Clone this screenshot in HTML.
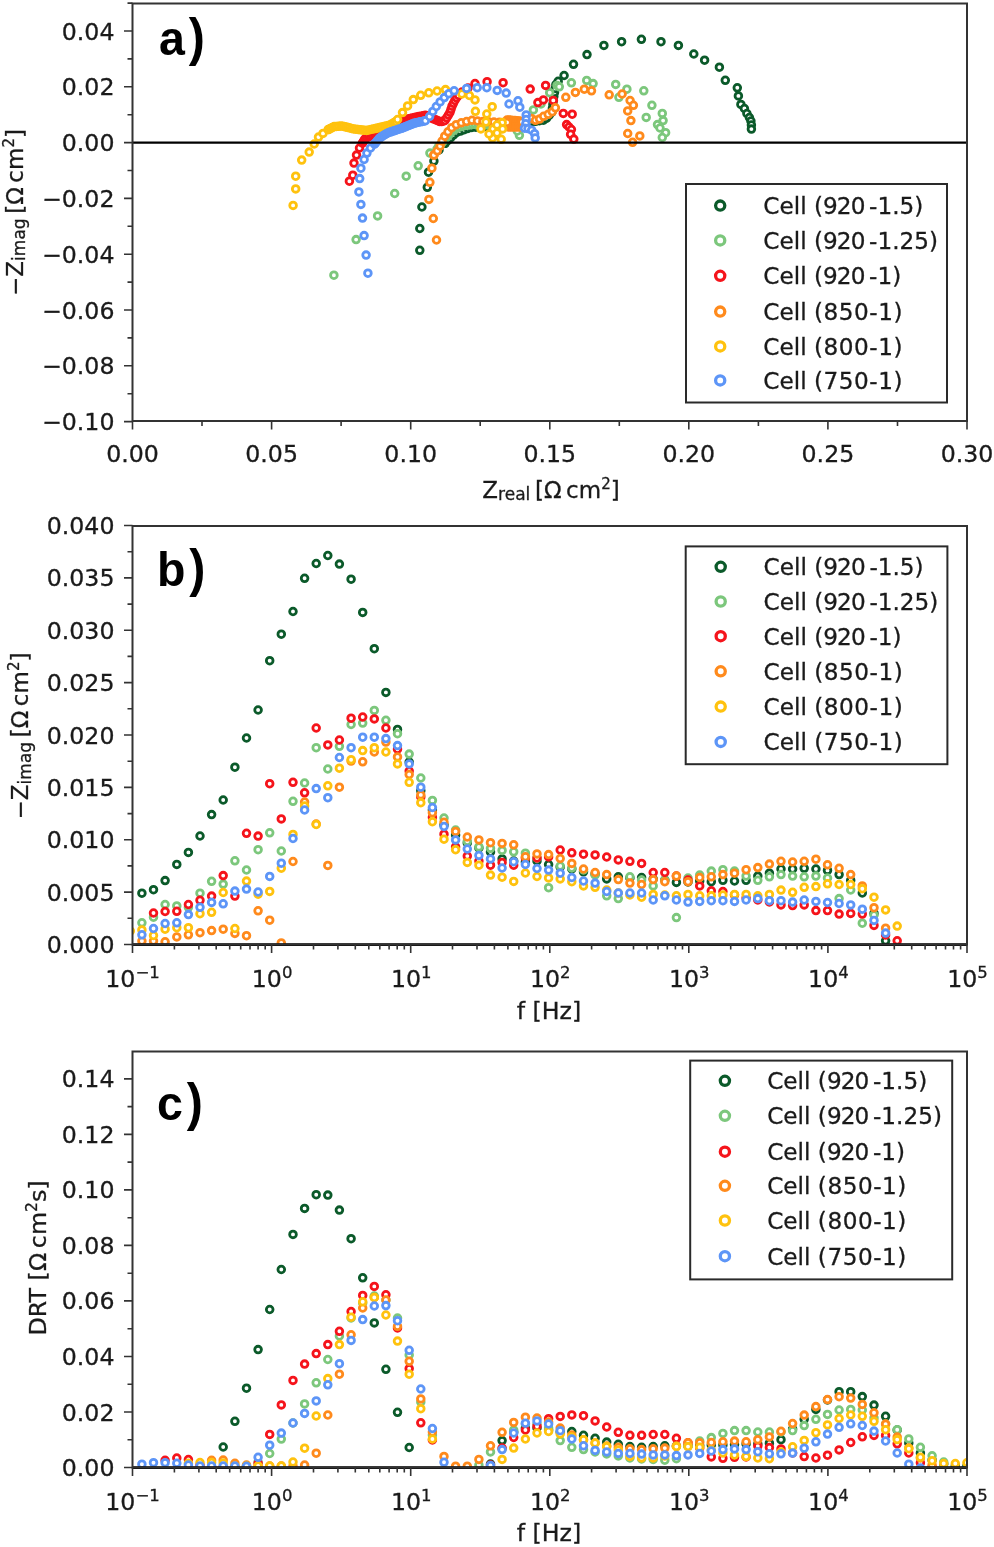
<!DOCTYPE html><html><head><meta charset="utf-8"><title>Impedance plots</title>
<style>html,body{margin:0;padding:0;background:#fff;}svg{display:block;filter:blur(0.4px);}text{font-family:'DejaVu Sans', 'Liberation Sans', sans-serif;fill:#1a1a1a;stroke:#1a1a1a;stroke-width:0.3px;}</style></head><body>
<svg width="994" height="1547" viewBox="0 0 994 1547">
<rect width="994" height="1547" fill="#fff"/>
<defs>
<clipPath id="clipa"><rect x="132.5" y="3.5" width="834.5" height="417.5"/></clipPath>
<clipPath id="clipb"><rect x="132.5" y="526.0" width="834.5" height="418.5"/></clipPath>
<clipPath id="clipc"><rect x="132.5" y="1051.5" width="834.5" height="416.0"/></clipPath>
</defs>
<g clip-path="url(#clipa)">
<g fill="#fff" stroke="#0b5a2a" stroke-width="2.8"><circle cx="419.8" cy="250.3" r="3.35"/><circle cx="419.8" cy="228.5" r="3.35"/><circle cx="421.9" cy="207" r="3.35"/><circle cx="427.3" cy="187.3" r="3.35"/><circle cx="428.5" cy="172.2" r="3.35"/><circle cx="433.9" cy="161.1" r="3.35"/><circle cx="439" cy="150" r="3.35"/><circle cx="445" cy="143.3" r="3.35"/><circle cx="445" cy="143.3" r="3.35"/><circle cx="447.9" cy="140.5" r="3.35"/><circle cx="450.7" cy="137.7" r="3.35"/><circle cx="453.6" cy="134.9" r="3.35"/><circle cx="456.6" cy="132.5" r="3.35"/><circle cx="460.4" cy="131.1" r="3.35"/><circle cx="464.2" cy="129.7" r="3.35"/><circle cx="467.9" cy="128.4" r="3.35"/><circle cx="471.8" cy="127.5" r="3.35"/><circle cx="475.8" cy="127.2" r="3.35"/><circle cx="479.8" cy="126.9" r="3.35"/><circle cx="483.8" cy="126.6" r="3.35"/><circle cx="487.7" cy="126.4" r="3.35"/><circle cx="491.7" cy="126.1" r="3.35"/><circle cx="495.7" cy="125.7" r="3.35"/><circle cx="499.7" cy="125.4" r="3.35"/><circle cx="503.7" cy="125" r="3.35"/><circle cx="507.7" cy="124.7" r="3.35"/><circle cx="511.7" cy="124.3" r="3.35"/><circle cx="515.6" cy="123.8" r="3.35"/><circle cx="519.6" cy="123.3" r="3.35"/><circle cx="523.6" cy="122.8" r="3.35"/><circle cx="527.5" cy="122.3" r="3.35"/><circle cx="531.5" cy="121.8" r="3.35"/><circle cx="535.5" cy="121.3" r="3.35"/><circle cx="539.4" cy="120.7" r="3.35"/><circle cx="543.4" cy="120.2" r="3.35"/><circle cx="546.6" cy="118.2" r="3.35"/><circle cx="549.2" cy="115.2" r="3.35"/><circle cx="551.8" cy="112.2" r="3.35"/><circle cx="552.4" cy="108.3" r="3.35"/><circle cx="552.9" cy="104.3" r="3.35"/><circle cx="553.4" cy="100.3" r="3.35"/><circle cx="553.8" cy="96.4" r="3.35"/><circle cx="554.5" cy="92.4" r="3.35"/><circle cx="555.2" cy="88.5" r="3.35"/><circle cx="555.9" cy="84.5" r="3.35"/><circle cx="558.2" cy="81.3" r="3.35"/><circle cx="564.1" cy="75.5" r="3.35"/><circle cx="573.5" cy="64.3" r="3.35"/><circle cx="587" cy="54.6" r="3.35"/><circle cx="603.9" cy="45.4" r="3.35"/><circle cx="621.6" cy="41.7" r="3.35"/><circle cx="641.4" cy="39.3" r="3.35"/><circle cx="661" cy="41.7" r="3.35"/><circle cx="678.4" cy="45.4" r="3.35"/><circle cx="693.8" cy="54" r="3.35"/><circle cx="704.6" cy="60.2" r="3.35"/><circle cx="719.4" cy="67.2" r="3.35"/><circle cx="725.3" cy="80.3" r="3.35"/><circle cx="737.3" cy="87.8" r="3.35"/><circle cx="738.4" cy="95.9" r="3.35"/><circle cx="740.9" cy="104.4" r="3.35"/><circle cx="744.4" cy="108.5" r="3.35"/><circle cx="746.9" cy="113.5" r="3.35"/><circle cx="749.4" cy="117.5" r="3.35"/><circle cx="750.9" cy="121" r="3.35"/><circle cx="751.4" cy="125" r="3.35"/><circle cx="751.4" cy="129.1" r="3.35"/></g>
<g fill="#fff" stroke="#7cc77c" stroke-width="2.8"><circle cx="333.9" cy="275.2" r="3.35"/><circle cx="356.1" cy="239.6" r="3.35"/><circle cx="377.6" cy="215.9" r="3.35"/><circle cx="394.7" cy="193.5" r="3.35"/><circle cx="406.2" cy="176.2" r="3.35"/><circle cx="418.2" cy="165.8" r="3.35"/><circle cx="429.9" cy="153.1" r="3.35"/><circle cx="439" cy="146" r="3.35"/><circle cx="437" cy="149" r="3.35"/><circle cx="438.9" cy="146.7" r="3.35"/><circle cx="440.8" cy="144.4" r="3.35"/><circle cx="442.7" cy="142" r="3.35"/><circle cx="444.6" cy="139.7" r="3.35"/><circle cx="446.6" cy="137.5" r="3.35"/><circle cx="448.6" cy="135.3" r="3.35"/><circle cx="450.6" cy="133" r="3.35"/><circle cx="452.8" cy="131" r="3.35"/><circle cx="455.3" cy="129.3" r="3.35"/><circle cx="457.8" cy="127.6" r="3.35"/><circle cx="460.6" cy="126.7" r="3.35"/><circle cx="463.5" cy="125.9" r="3.35"/><circle cx="466.4" cy="125.3" r="3.35"/><circle cx="469.4" cy="124.9" r="3.35"/><circle cx="472.4" cy="124.5" r="3.35"/><circle cx="475.4" cy="124.5" r="3.35"/><circle cx="478.4" cy="124.5" r="3.35"/><circle cx="481.4" cy="124.6" r="3.35"/><circle cx="484.4" cy="124.7" r="3.35"/><circle cx="487.4" cy="124.9" r="3.35"/><circle cx="490.4" cy="125" r="3.35"/><circle cx="493.4" cy="124.8" r="3.35"/><circle cx="496.4" cy="124.7" r="3.35"/><circle cx="499.4" cy="124.5" r="3.35"/><circle cx="502.2" cy="123.7" r="3.35"/><circle cx="505" cy="122.6" r="3.35"/><circle cx="507.8" cy="121.5" r="3.35"/><circle cx="510.6" cy="120.4" r="3.35"/><circle cx="519.4" cy="135.3" r="3.35"/><circle cx="517.3" cy="131" r="3.35"/><circle cx="533.4" cy="109.9" r="3.35"/><circle cx="541" cy="104" r="3.35"/><circle cx="549.7" cy="92.7" r="3.35"/><circle cx="557" cy="85.4" r="3.35"/><circle cx="559.3" cy="86.8" r="3.35"/><circle cx="571.4" cy="82.8" r="3.35"/><circle cx="586.7" cy="80.4" r="3.35"/><circle cx="593.1" cy="83.6" r="3.35"/><circle cx="615.7" cy="84.4" r="3.35"/><circle cx="626.9" cy="89.2" r="3.35"/><circle cx="618.9" cy="97.3" r="3.35"/><circle cx="643.8" cy="90.8" r="3.35"/><circle cx="651.9" cy="105.3" r="3.35"/><circle cx="646.2" cy="117.4" r="3.35"/><circle cx="662.3" cy="113.4" r="3.35"/><circle cx="663.1" cy="120.6" r="3.35"/><circle cx="657.5" cy="124.6" r="3.35"/><circle cx="660" cy="128" r="3.35"/><circle cx="665.6" cy="132.7" r="3.35"/><circle cx="662.3" cy="137.5" r="3.35"/></g>
<g fill="#fff" stroke="#f5141b" stroke-width="2.8"><circle cx="349.4" cy="181.2" r="3.35"/><circle cx="352.8" cy="175.2" r="3.35"/><circle cx="354" cy="163.1" r="3.35"/><circle cx="356.5" cy="155.1" r="3.35"/><circle cx="359.5" cy="148" r="3.35"/><circle cx="362.5" cy="143" r="3.35"/><circle cx="362.5" cy="143" r="3.35"/><circle cx="363.6" cy="141.1" r="3.35"/><circle cx="364.8" cy="139.2" r="3.35"/><circle cx="366.5" cy="137.9" r="3.35"/><circle cx="368.4" cy="136.8" r="3.35"/><circle cx="370.4" cy="136.2" r="3.35"/><circle cx="372.6" cy="135.9" r="3.35"/><circle cx="374.7" cy="135.2" r="3.35"/><circle cx="376.6" cy="134.2" r="3.35"/><circle cx="378.6" cy="133.2" r="3.35"/><circle cx="380.6" cy="132.2" r="3.35"/><circle cx="382.5" cy="131.2" r="3.35"/><circle cx="384.5" cy="130.3" r="3.35"/><circle cx="386.4" cy="129.2" r="3.35"/><circle cx="388.3" cy="128" r="3.35"/><circle cx="390.2" cy="126.9" r="3.35"/><circle cx="392.1" cy="125.8" r="3.35"/><circle cx="393.9" cy="124.6" r="3.35"/><circle cx="395.8" cy="123.5" r="3.35"/><circle cx="397.7" cy="122.4" r="3.35"/><circle cx="399.6" cy="121.2" r="3.35"/><circle cx="401.7" cy="120.6" r="3.35"/><circle cx="403.8" cy="120" r="3.35"/><circle cx="406" cy="119.5" r="3.35"/><circle cx="408.1" cy="119" r="3.35"/><circle cx="410.2" cy="118.4" r="3.35"/><circle cx="412.4" cy="117.9" r="3.35"/><circle cx="414.5" cy="117.5" r="3.35"/><circle cx="416.7" cy="117.1" r="3.35"/><circle cx="418.8" cy="116.6" r="3.35"/><circle cx="421" cy="116.2" r="3.35"/><circle cx="423.1" cy="115.8" r="3.35"/><circle cx="425.3" cy="115.3" r="3.35"/><circle cx="427.3" cy="116.1" r="3.35"/><circle cx="429.3" cy="117" r="3.35"/><circle cx="431.4" cy="117.9" r="3.35"/><circle cx="433.4" cy="118.8" r="3.35"/><circle cx="435.4" cy="119.7" r="3.35"/><circle cx="437.4" cy="120.5" r="3.35"/><circle cx="439.4" cy="121.4" r="3.35"/><circle cx="441.5" cy="121.6" r="3.35"/><circle cx="443.6" cy="121" r="3.35"/><circle cx="445" cy="120.5" r="3.35"/><circle cx="446.7" cy="117.8" r="3.35"/><circle cx="448.4" cy="115.1" r="3.35"/><circle cx="450" cy="112.3" r="3.35"/><circle cx="451" cy="109.3" r="3.35"/><circle cx="452" cy="106.2" r="3.35"/><circle cx="453.4" cy="103.3" r="3.35"/><circle cx="454.8" cy="100.5" r="3.35"/><circle cx="456.5" cy="97.8" r="3.35"/><circle cx="458.6" cy="95.4" r="3.35"/><circle cx="462" cy="92" r="3.35"/><circle cx="468" cy="88" r="3.35"/><circle cx="475" cy="83.5" r="3.35"/><circle cx="487.1" cy="81.7" r="3.35"/><circle cx="503.1" cy="82.7" r="3.35"/><circle cx="530.2" cy="89.1" r="3.35"/><circle cx="545.6" cy="85.4" r="3.35"/><circle cx="537.9" cy="102.6" r="3.35"/><circle cx="543.4" cy="99.9" r="3.35"/><circle cx="553.3" cy="100.4" r="3.35"/><circle cx="563.3" cy="113.4" r="3.35"/><circle cx="572.2" cy="114.2" r="3.35"/><circle cx="566.6" cy="124.6" r="3.35"/><circle cx="569" cy="127" r="3.35"/><circle cx="571.4" cy="129.5" r="3.35"/><circle cx="570.6" cy="134.3" r="3.35"/><circle cx="573.8" cy="139.1" r="3.35"/></g>
<g fill="#fff" stroke="#ff8a1c" stroke-width="2.8"><circle cx="436.5" cy="240" r="3.35"/><circle cx="433.3" cy="218.5" r="3.35"/><circle cx="428.9" cy="199.4" r="3.35"/><circle cx="429.9" cy="182.3" r="3.35"/><circle cx="431.9" cy="168.2" r="3.35"/><circle cx="433.9" cy="155.1" r="3.35"/><circle cx="433.9" cy="155.1" r="3.35"/><circle cx="437.3" cy="150.8" r="3.35"/><circle cx="440.1" cy="146.1" r="3.35"/><circle cx="442.1" cy="141" r="3.35"/><circle cx="444.7" cy="136.2" r="3.35"/><circle cx="448" cy="131.8" r="3.35"/><circle cx="451.7" cy="127.7" r="3.35"/><circle cx="456.2" cy="124.7" r="3.35"/><circle cx="461.3" cy="122.8" r="3.35"/><circle cx="466.6" cy="121.5" r="3.35"/><circle cx="472" cy="120.3" r="3.35"/><circle cx="477.5" cy="121" r="3.35"/><circle cx="482.9" cy="121.4" r="3.35"/><circle cx="488.4" cy="121.7" r="3.35"/><circle cx="493.9" cy="122" r="3.35"/><circle cx="499.4" cy="122.3" r="3.35"/><circle cx="504.9" cy="122.5" r="3.35"/><circle cx="507" cy="120" r="3.35"/><circle cx="509" cy="120.1" r="3.35"/><circle cx="511" cy="120.3" r="3.35"/><circle cx="513" cy="120.4" r="3.35"/><circle cx="515" cy="120.6" r="3.35"/><circle cx="517" cy="120.7" r="3.35"/><circle cx="519" cy="120.9" r="3.35"/><circle cx="520.7" cy="121.3" r="3.35"/><circle cx="520.7" cy="123.3" r="3.35"/><circle cx="520.7" cy="125.3" r="3.35"/><circle cx="520.4" cy="127" r="3.35"/><circle cx="518.4" cy="127" r="3.35"/><circle cx="516.4" cy="127" r="3.35"/><circle cx="514.4" cy="127" r="3.35"/><circle cx="512.4" cy="127" r="3.35"/><circle cx="510.4" cy="127" r="3.35"/><circle cx="508.4" cy="127" r="3.35"/><circle cx="507" cy="126.4" r="3.35"/><circle cx="507" cy="124.4" r="3.35"/><circle cx="507" cy="122.4" r="3.35"/><circle cx="522" cy="122" r="3.35"/><circle cx="526.7" cy="120.2" r="3.35"/><circle cx="531.3" cy="118.4" r="3.35"/><circle cx="535.5" cy="120.3" r="3.35"/><circle cx="539.5" cy="119.1" r="3.35"/><circle cx="543.6" cy="116.3" r="3.35"/><circle cx="548.2" cy="114.3" r="3.35"/><circle cx="552.3" cy="111.7" r="3.35"/><circle cx="555.4" cy="107.8" r="3.35"/><circle cx="565.8" cy="97.3" r="3.35"/><circle cx="575.4" cy="92.4" r="3.35"/><circle cx="584.3" cy="89.2" r="3.35"/><circle cx="591.5" cy="90.8" r="3.35"/><circle cx="609.2" cy="94.8" r="3.35"/><circle cx="622.1" cy="94" r="3.35"/><circle cx="630.1" cy="100.5" r="3.35"/><circle cx="633.4" cy="105.3" r="3.35"/><circle cx="627.7" cy="110.9" r="3.35"/><circle cx="630.9" cy="120.6" r="3.35"/><circle cx="627.7" cy="133.5" r="3.35"/><circle cx="639.8" cy="135.9" r="3.35"/><circle cx="632.6" cy="142.3" r="3.35"/></g>
<g fill="#fff" stroke="#ffc20e" stroke-width="2.8"><circle cx="293.1" cy="205.4" r="3.35"/><circle cx="295.7" cy="188.9" r="3.35"/><circle cx="295.7" cy="176.2" r="3.35"/><circle cx="301.7" cy="160.1" r="3.35"/><circle cx="309.2" cy="152.1" r="3.35"/><circle cx="314.2" cy="144" r="3.35"/><circle cx="318.5" cy="137.1" r="3.35"/><circle cx="323" cy="133.4" r="3.35"/><circle cx="328.3" cy="129.6" r="3.35"/><circle cx="328.3" cy="129.6" r="3.35"/><circle cx="330.3" cy="128.6" r="3.35"/><circle cx="332.2" cy="127.6" r="3.35"/><circle cx="334.2" cy="126.6" r="3.35"/><circle cx="336.4" cy="126.4" r="3.35"/><circle cx="338.6" cy="126.3" r="3.35"/><circle cx="340.8" cy="126.1" r="3.35"/><circle cx="342.9" cy="126.2" r="3.35"/><circle cx="345.1" cy="126.8" r="3.35"/><circle cx="347.2" cy="127.3" r="3.35"/><circle cx="349.3" cy="127.8" r="3.35"/><circle cx="351.5" cy="128.4" r="3.35"/><circle cx="353.6" cy="128.9" r="3.35"/><circle cx="355.8" cy="129.2" r="3.35"/><circle cx="358" cy="129.5" r="3.35"/><circle cx="360.2" cy="129.8" r="3.35"/><circle cx="362.3" cy="130" r="3.35"/><circle cx="364.5" cy="130.3" r="3.35"/><circle cx="366.7" cy="130.4" r="3.35"/><circle cx="368.8" cy="129.9" r="3.35"/><circle cx="371" cy="129.5" r="3.35"/><circle cx="373.2" cy="129" r="3.35"/><circle cx="375.3" cy="128.6" r="3.35"/><circle cx="377.5" cy="128.1" r="3.35"/><circle cx="379.6" cy="127.6" r="3.35"/><circle cx="381.7" cy="127.1" r="3.35"/><circle cx="383.9" cy="126.5" r="3.35"/><circle cx="386" cy="126" r="3.35"/><circle cx="388.1" cy="125.5" r="3.35"/><circle cx="390.2" cy="124.9" r="3.35"/><circle cx="392.1" cy="123.7" r="3.35"/><circle cx="394" cy="122.6" r="3.35"/><circle cx="395.9" cy="121.5" r="3.35"/><circle cx="397.6" cy="119.5" r="3.35"/><circle cx="402.5" cy="112.6" r="3.35"/><circle cx="407.6" cy="105.9" r="3.35"/><circle cx="413.3" cy="99.6" r="3.35"/><circle cx="420.7" cy="95.3" r="3.35"/><circle cx="428.8" cy="92.8" r="3.35"/><circle cx="437.1" cy="91" r="3.35"/><circle cx="445.5" cy="89.6" r="3.35"/><circle cx="461.9" cy="94" r="3.35"/><circle cx="469.4" cy="95.5" r="3.35"/><circle cx="475" cy="99.9" r="3.35"/><circle cx="475.4" cy="111.3" r="3.35"/><circle cx="480.9" cy="128.9" r="3.35"/><circle cx="486.8" cy="114" r="3.35"/><circle cx="492.2" cy="106.7" r="3.35"/><circle cx="493.1" cy="128.9" r="3.35"/><circle cx="502.2" cy="122.6" r="3.35"/><circle cx="502.6" cy="128.9" r="3.35"/><circle cx="492.6" cy="138" r="3.35"/><circle cx="501.2" cy="139.3" r="3.35"/><circle cx="497" cy="125" r="3.35"/><circle cx="497" cy="133" r="3.35"/><circle cx="489" cy="134" r="3.35"/><circle cx="486" cy="122" r="3.35"/></g>
<g fill="#fff" stroke="#5d95f7" stroke-width="2.8"><circle cx="367.9" cy="273.2" r="3.35"/><circle cx="366.1" cy="255.1" r="3.35"/><circle cx="364.1" cy="235.6" r="3.35"/><circle cx="362.5" cy="218.1" r="3.35"/><circle cx="360.9" cy="204.4" r="3.35"/><circle cx="358.9" cy="191.9" r="3.35"/><circle cx="359.7" cy="178.6" r="3.35"/><circle cx="360.9" cy="168.2" r="3.35"/><circle cx="364.1" cy="159.5" r="3.35"/><circle cx="366.9" cy="153.1" r="3.35"/><circle cx="370.5" cy="148" r="3.35"/><circle cx="374.6" cy="144" r="3.35"/><circle cx="374.6" cy="144" r="3.35"/><circle cx="375.9" cy="142.5" r="3.35"/><circle cx="377.2" cy="140.9" r="3.35"/><circle cx="378.5" cy="139.4" r="3.35"/><circle cx="379.8" cy="137.9" r="3.35"/><circle cx="381.4" cy="136.8" r="3.35"/><circle cx="383.1" cy="135.7" r="3.35"/><circle cx="384.8" cy="134.7" r="3.35"/><circle cx="386.5" cy="133.7" r="3.35"/><circle cx="388.3" cy="132.7" r="3.35"/><circle cx="390.2" cy="132.1" r="3.35"/><circle cx="392.1" cy="131.4" r="3.35"/><circle cx="394" cy="130.8" r="3.35"/><circle cx="395.9" cy="130.2" r="3.35"/><circle cx="397.8" cy="129.5" r="3.35"/><circle cx="399.7" cy="128.9" r="3.35"/><circle cx="401.6" cy="128.3" r="3.35"/><circle cx="403.4" cy="127.6" r="3.35"/><circle cx="405.3" cy="126.8" r="3.35"/><circle cx="407.1" cy="126.1" r="3.35"/><circle cx="409" cy="125.3" r="3.35"/><circle cx="410.9" cy="124.6" r="3.35"/><circle cx="412.7" cy="123.8" r="3.35"/><circle cx="414.6" cy="123.1" r="3.35"/><circle cx="416.5" cy="122.7" r="3.35"/><circle cx="418.5" cy="122.2" r="3.35"/><circle cx="420.4" cy="121.8" r="3.35"/><circle cx="422.4" cy="121.4" r="3.35"/><circle cx="424.3" cy="120.9" r="3.35"/><circle cx="425.4" cy="120.7" r="3.35"/><circle cx="429.6" cy="116.5" r="3.35"/><circle cx="432.8" cy="111.4" r="3.35"/><circle cx="436.3" cy="106.5" r="3.35"/><circle cx="440.1" cy="101.9" r="3.35"/><circle cx="444.3" cy="97.6" r="3.35"/><circle cx="448.8" cy="93.7" r="3.35"/><circle cx="454.1" cy="90.8" r="3.35"/><circle cx="466.6" cy="88.4" r="3.35"/><circle cx="477.2" cy="87.7" r="3.35"/><circle cx="486.8" cy="87.7" r="3.35"/><circle cx="497.2" cy="90.4" r="3.35"/><circle cx="506.2" cy="93.1" r="3.35"/><circle cx="509" cy="104" r="3.35"/><circle cx="518" cy="100.8" r="3.35"/><circle cx="519.8" cy="107.2" r="3.35"/><circle cx="526.2" cy="114.9" r="3.35"/><circle cx="526.2" cy="119.4" r="3.35"/><circle cx="525.8" cy="123.8" r="3.35"/><circle cx="524.5" cy="128.2" r="3.35"/><circle cx="528" cy="128.6" r="3.35"/><circle cx="531.7" cy="130.2" r="3.35"/><circle cx="534.6" cy="133.7" r="3.35"/><circle cx="535.2" cy="137.9" r="3.35"/></g>
</g>
<line x1="132.5" y1="142.6" x2="967.0" y2="142.6" stroke="#000" stroke-width="2.2"/>
<g clip-path="url(#clipb)">
<g fill="#fff" stroke="#0b5a2a" stroke-width="2.8"><circle cx="141.9" cy="893.2" r="3.35"/><circle cx="153.5" cy="889.7" r="3.35"/><circle cx="165.1" cy="880.6" r="3.35"/><circle cx="176.8" cy="864.4" r="3.35"/><circle cx="188.4" cy="852.4" r="3.35"/><circle cx="200" cy="836" r="3.35"/><circle cx="211.6" cy="814.6" r="3.35"/><circle cx="223.2" cy="800" r="3.35"/><circle cx="234.9" cy="767.2" r="3.35"/><circle cx="246.5" cy="738" r="3.35"/><circle cx="258.1" cy="710" r="3.35"/><circle cx="269.7" cy="660.7" r="3.35"/><circle cx="281.3" cy="634.2" r="3.35"/><circle cx="293" cy="611.5" r="3.35"/><circle cx="304.6" cy="578.3" r="3.35"/><circle cx="316.2" cy="563.5" r="3.35"/><circle cx="327.8" cy="555.5" r="3.35"/><circle cx="339.4" cy="564.1" r="3.35"/><circle cx="351.1" cy="579.2" r="3.35"/><circle cx="362.7" cy="612.4" r="3.35"/><circle cx="374.3" cy="648.7" r="3.35"/><circle cx="385.9" cy="692.4" r="3.35"/><circle cx="397.5" cy="729.4" r="3.35"/><circle cx="409.2" cy="762" r="3.35"/><circle cx="420.8" cy="790.7" r="3.35"/><circle cx="432.4" cy="810" r="3.35"/><circle cx="444" cy="825" r="3.35"/><circle cx="455.6" cy="835" r="3.35"/><circle cx="467.3" cy="843" r="3.35"/><circle cx="478.9" cy="848" r="3.35"/><circle cx="490.5" cy="852" r="3.35"/><circle cx="502.1" cy="858.9" r="3.35"/><circle cx="513.7" cy="861" r="3.35"/><circle cx="525.4" cy="862" r="3.35"/><circle cx="537" cy="861" r="3.35"/><circle cx="548.6" cy="864.5" r="3.35"/><circle cx="560.2" cy="867" r="3.35"/><circle cx="571.8" cy="869" r="3.35"/><circle cx="583.5" cy="871.8" r="3.35"/><circle cx="595.1" cy="874" r="3.35"/><circle cx="606.7" cy="878.9" r="3.35"/><circle cx="618.3" cy="876.8" r="3.35"/><circle cx="629.9" cy="878" r="3.35"/><circle cx="641.6" cy="877.5" r="3.35"/><circle cx="653.2" cy="879" r="3.35"/><circle cx="664.8" cy="880" r="3.35"/><circle cx="676.4" cy="882.4" r="3.35"/><circle cx="688" cy="882" r="3.35"/><circle cx="699.7" cy="881" r="3.35"/><circle cx="711.3" cy="881.7" r="3.35"/><circle cx="722.9" cy="880.3" r="3.35"/><circle cx="734.5" cy="881" r="3.35"/><circle cx="746.1" cy="880.3" r="3.35"/><circle cx="757.8" cy="876.1" r="3.35"/><circle cx="769.4" cy="873.2" r="3.35"/><circle cx="781" cy="869" r="3.35"/><circle cx="792.6" cy="869" r="3.35"/><circle cx="804.2" cy="868.3" r="3.35"/><circle cx="815.9" cy="869" r="3.35"/><circle cx="827.5" cy="870.4" r="3.35"/><circle cx="839.1" cy="874.6" r="3.35"/><circle cx="850.7" cy="880.3" r="3.35"/><circle cx="862.3" cy="893" r="3.35"/><circle cx="874" cy="913.4" r="3.35"/><circle cx="885.6" cy="940.8" r="3.35"/></g>
<g fill="#fff" stroke="#7cc77c" stroke-width="2.8"><circle cx="141.9" cy="922.8" r="3.35"/><circle cx="153.5" cy="917.2" r="3.35"/><circle cx="165.1" cy="904.5" r="3.35"/><circle cx="176.8" cy="905.9" r="3.35"/><circle cx="188.4" cy="907.3" r="3.35"/><circle cx="200" cy="893.2" r="3.35"/><circle cx="211.6" cy="881.3" r="3.35"/><circle cx="223.2" cy="884.1" r="3.35"/><circle cx="234.9" cy="860.8" r="3.35"/><circle cx="246.5" cy="870" r="3.35"/><circle cx="258.1" cy="849.7" r="3.35"/><circle cx="269.7" cy="832.8" r="3.35"/><circle cx="281.3" cy="851" r="3.35"/><circle cx="293" cy="801.3" r="3.35"/><circle cx="304.6" cy="783" r="3.35"/><circle cx="316.2" cy="747.7" r="3.35"/><circle cx="327.8" cy="769" r="3.35"/><circle cx="339.4" cy="746.3" r="3.35"/><circle cx="351.1" cy="724.5" r="3.35"/><circle cx="362.7" cy="723.1" r="3.35"/><circle cx="374.3" cy="710.4" r="3.35"/><circle cx="385.9" cy="720.3" r="3.35"/><circle cx="397.5" cy="733.7" r="3.35"/><circle cx="409.2" cy="754.1" r="3.35"/><circle cx="420.8" cy="778" r="3.35"/><circle cx="432.4" cy="800.4" r="3.35"/><circle cx="444" cy="818" r="3.35"/><circle cx="455.6" cy="830" r="3.35"/><circle cx="467.3" cy="841.3" r="3.35"/><circle cx="478.9" cy="846.9" r="3.35"/><circle cx="490.5" cy="848.3" r="3.35"/><circle cx="502.1" cy="850.4" r="3.35"/><circle cx="513.7" cy="851.8" r="3.35"/><circle cx="525.4" cy="853.2" r="3.35"/><circle cx="537" cy="858" r="3.35"/><circle cx="548.6" cy="887.7" r="3.35"/><circle cx="560.2" cy="866" r="3.35"/><circle cx="571.8" cy="868" r="3.35"/><circle cx="583.5" cy="870" r="3.35"/><circle cx="595.1" cy="875" r="3.35"/><circle cx="606.7" cy="895.8" r="3.35"/><circle cx="618.3" cy="898.6" r="3.35"/><circle cx="629.9" cy="876.8" r="3.35"/><circle cx="641.6" cy="880" r="3.35"/><circle cx="653.2" cy="885.9" r="3.35"/><circle cx="664.8" cy="880" r="3.35"/><circle cx="676.4" cy="917.6" r="3.35"/><circle cx="688" cy="878" r="3.35"/><circle cx="699.7" cy="875" r="3.35"/><circle cx="711.3" cy="871.1" r="3.35"/><circle cx="722.9" cy="869.7" r="3.35"/><circle cx="734.5" cy="871.1" r="3.35"/><circle cx="746.1" cy="876.1" r="3.35"/><circle cx="757.8" cy="880.3" r="3.35"/><circle cx="769.4" cy="876.8" r="3.35"/><circle cx="781" cy="874.6" r="3.35"/><circle cx="792.6" cy="876.1" r="3.35"/><circle cx="804.2" cy="876.8" r="3.35"/><circle cx="815.9" cy="876.1" r="3.35"/><circle cx="827.5" cy="878" r="3.35"/><circle cx="839.1" cy="898.6" r="3.35"/><circle cx="850.7" cy="890" r="3.35"/><circle cx="862.3" cy="923.2" r="3.35"/><circle cx="874" cy="915" r="3.35"/></g>
<g fill="#fff" stroke="#f5141b" stroke-width="2.8"><circle cx="153.5" cy="913" r="3.35"/><circle cx="165.1" cy="911.5" r="3.35"/><circle cx="176.8" cy="911.3" r="3.35"/><circle cx="188.4" cy="904.5" r="3.35"/><circle cx="200" cy="900.3" r="3.35"/><circle cx="211.6" cy="896.1" r="3.35"/><circle cx="223.2" cy="875.6" r="3.35"/><circle cx="234.9" cy="896.1" r="3.35"/><circle cx="246.5" cy="833.3" r="3.35"/><circle cx="258.1" cy="836.1" r="3.35"/><circle cx="269.7" cy="783.7" r="3.35"/><circle cx="281.3" cy="818.9" r="3.35"/><circle cx="293" cy="782.3" r="3.35"/><circle cx="304.6" cy="792.8" r="3.35"/><circle cx="316.2" cy="728" r="3.35"/><circle cx="327.8" cy="744.9" r="3.35"/><circle cx="339.4" cy="740" r="3.35"/><circle cx="351.1" cy="718.2" r="3.35"/><circle cx="362.7" cy="717" r="3.35"/><circle cx="374.3" cy="718.9" r="3.35"/><circle cx="385.9" cy="728" r="3.35"/><circle cx="397.5" cy="749.2" r="3.35"/><circle cx="409.2" cy="771" r="3.35"/><circle cx="420.8" cy="797" r="3.35"/><circle cx="432.4" cy="817.3" r="3.35"/><circle cx="444" cy="834.2" r="3.35"/><circle cx="455.6" cy="846.9" r="3.35"/><circle cx="467.3" cy="856.1" r="3.35"/><circle cx="478.9" cy="861" r="3.35"/><circle cx="490.5" cy="865.2" r="3.35"/><circle cx="502.1" cy="862.4" r="3.35"/><circle cx="513.7" cy="865.2" r="3.35"/><circle cx="525.4" cy="858" r="3.35"/><circle cx="537" cy="858" r="3.35"/><circle cx="548.6" cy="857" r="3.35"/><circle cx="560.2" cy="850" r="3.35"/><circle cx="571.8" cy="852.8" r="3.35"/><circle cx="583.5" cy="854.2" r="3.35"/><circle cx="595.1" cy="854.9" r="3.35"/><circle cx="606.7" cy="857" r="3.35"/><circle cx="618.3" cy="859.9" r="3.35"/><circle cx="629.9" cy="861.3" r="3.35"/><circle cx="641.6" cy="863.4" r="3.35"/><circle cx="653.2" cy="872.5" r="3.35"/><circle cx="664.8" cy="872.5" r="3.35"/><circle cx="676.4" cy="876.1" r="3.35"/><circle cx="688" cy="880" r="3.35"/><circle cx="699.7" cy="885.9" r="3.35"/><circle cx="711.3" cy="890.8" r="3.35"/><circle cx="722.9" cy="891.5" r="3.35"/><circle cx="734.5" cy="895" r="3.35"/><circle cx="746.1" cy="898" r="3.35"/><circle cx="757.8" cy="900" r="3.35"/><circle cx="769.4" cy="902" r="3.35"/><circle cx="781" cy="904.9" r="3.35"/><circle cx="792.6" cy="905.6" r="3.35"/><circle cx="804.2" cy="904.9" r="3.35"/><circle cx="815.9" cy="910.6" r="3.35"/><circle cx="827.5" cy="910.6" r="3.35"/><circle cx="839.1" cy="914.1" r="3.35"/><circle cx="850.7" cy="913.4" r="3.35"/><circle cx="862.3" cy="914.1" r="3.35"/><circle cx="874" cy="925.4" r="3.35"/><circle cx="885.6" cy="935" r="3.35"/><circle cx="897.2" cy="940.8" r="3.35"/></g>
<g fill="#fff" stroke="#ff8a1c" stroke-width="2.8"><circle cx="141.9" cy="941" r="3.35"/><circle cx="153.5" cy="941" r="3.35"/><circle cx="165.1" cy="941.8" r="3.35"/><circle cx="176.8" cy="936.9" r="3.35"/><circle cx="188.4" cy="934.8" r="3.35"/><circle cx="200" cy="932.7" r="3.35"/><circle cx="211.6" cy="930.6" r="3.35"/><circle cx="223.2" cy="929.2" r="3.35"/><circle cx="234.9" cy="933.4" r="3.35"/><circle cx="246.5" cy="935.7" r="3.35"/><circle cx="258.1" cy="910.8" r="3.35"/><circle cx="269.7" cy="920.2" r="3.35"/><circle cx="281.3" cy="942.9" r="3.35"/><circle cx="293" cy="861.5" r="3.35"/><circle cx="304.6" cy="802" r="3.35"/><circle cx="316.2" cy="824" r="3.35"/><circle cx="327.8" cy="865.4" r="3.35"/><circle cx="339.4" cy="787.2" r="3.35"/><circle cx="351.1" cy="761.1" r="3.35"/><circle cx="362.7" cy="761.8" r="3.35"/><circle cx="374.3" cy="752" r="3.35"/><circle cx="385.9" cy="742.1" r="3.35"/><circle cx="397.5" cy="756.9" r="3.35"/><circle cx="409.2" cy="774.5" r="3.35"/><circle cx="420.8" cy="794.9" r="3.35"/><circle cx="432.4" cy="812.8" r="3.35"/><circle cx="444" cy="822.3" r="3.35"/><circle cx="455.6" cy="831.4" r="3.35"/><circle cx="467.3" cy="837" r="3.35"/><circle cx="478.9" cy="839.9" r="3.35"/><circle cx="490.5" cy="842.7" r="3.35"/><circle cx="502.1" cy="843.4" r="3.35"/><circle cx="513.7" cy="844.8" r="3.35"/><circle cx="525.4" cy="856.8" r="3.35"/><circle cx="537" cy="853.9" r="3.35"/><circle cx="548.6" cy="854.6" r="3.35"/><circle cx="560.2" cy="858.5" r="3.35"/><circle cx="571.8" cy="863.4" r="3.35"/><circle cx="583.5" cy="869" r="3.35"/><circle cx="595.1" cy="872.5" r="3.35"/><circle cx="606.7" cy="874.6" r="3.35"/><circle cx="618.3" cy="879.6" r="3.35"/><circle cx="629.9" cy="883.1" r="3.35"/><circle cx="641.6" cy="884.5" r="3.35"/><circle cx="653.2" cy="879.6" r="3.35"/><circle cx="664.8" cy="881.7" r="3.35"/><circle cx="676.4" cy="876.1" r="3.35"/><circle cx="688" cy="881.7" r="3.35"/><circle cx="699.7" cy="877.5" r="3.35"/><circle cx="711.3" cy="876.8" r="3.35"/><circle cx="722.9" cy="874.6" r="3.35"/><circle cx="734.5" cy="873.2" r="3.35"/><circle cx="746.1" cy="869.7" r="3.35"/><circle cx="757.8" cy="867.6" r="3.35"/><circle cx="769.4" cy="864.1" r="3.35"/><circle cx="781" cy="861.3" r="3.35"/><circle cx="792.6" cy="862" r="3.35"/><circle cx="804.2" cy="861.3" r="3.35"/><circle cx="815.9" cy="859.2" r="3.35"/><circle cx="827.5" cy="864.8" r="3.35"/><circle cx="839.1" cy="868.3" r="3.35"/><circle cx="850.7" cy="874.6" r="3.35"/><circle cx="862.3" cy="885.9" r="3.35"/><circle cx="874" cy="907.7" r="3.35"/><circle cx="885.6" cy="928.2" r="3.35"/></g>
<g fill="#fff" stroke="#ffc20e" stroke-width="2.8"><circle cx="130.3" cy="931" r="3.35"/><circle cx="141.9" cy="929.9" r="3.35"/><circle cx="153.5" cy="935.5" r="3.35"/><circle cx="165.1" cy="929.2" r="3.35"/><circle cx="176.8" cy="927.7" r="3.35"/><circle cx="188.4" cy="927.7" r="3.35"/><circle cx="200" cy="913.7" r="3.35"/><circle cx="211.6" cy="912.3" r="3.35"/><circle cx="223.2" cy="892.5" r="3.35"/><circle cx="234.9" cy="928.5" r="3.35"/><circle cx="246.5" cy="881.1" r="3.35"/><circle cx="258.1" cy="894.2" r="3.35"/><circle cx="269.7" cy="891.4" r="3.35"/><circle cx="281.3" cy="868.2" r="3.35"/><circle cx="293" cy="834.4" r="3.35"/><circle cx="304.6" cy="806" r="3.35"/><circle cx="316.2" cy="824.5" r="3.35"/><circle cx="327.8" cy="785.8" r="3.35"/><circle cx="339.4" cy="768.2" r="3.35"/><circle cx="351.1" cy="759.7" r="3.35"/><circle cx="362.7" cy="750.6" r="3.35"/><circle cx="374.3" cy="747.7" r="3.35"/><circle cx="385.9" cy="752" r="3.35"/><circle cx="397.5" cy="763.9" r="3.35"/><circle cx="409.2" cy="782.3" r="3.35"/><circle cx="420.8" cy="802.7" r="3.35"/><circle cx="432.4" cy="821.7" r="3.35"/><circle cx="444" cy="839.2" r="3.35"/><circle cx="455.6" cy="849.7" r="3.35"/><circle cx="467.3" cy="862.4" r="3.35"/><circle cx="478.9" cy="865.2" r="3.35"/><circle cx="490.5" cy="875.1" r="3.35"/><circle cx="502.1" cy="877.2" r="3.35"/><circle cx="513.7" cy="881.4" r="3.35"/><circle cx="525.4" cy="873" r="3.35"/><circle cx="537" cy="876.5" r="3.35"/><circle cx="548.6" cy="877.9" r="3.35"/><circle cx="560.2" cy="878.9" r="3.35"/><circle cx="571.8" cy="881.7" r="3.35"/><circle cx="583.5" cy="885.9" r="3.35"/><circle cx="595.1" cy="887.3" r="3.35"/><circle cx="606.7" cy="890" r="3.35"/><circle cx="618.3" cy="893" r="3.35"/><circle cx="629.9" cy="895" r="3.35"/><circle cx="641.6" cy="897.2" r="3.35"/><circle cx="653.2" cy="894.4" r="3.35"/><circle cx="664.8" cy="895" r="3.35"/><circle cx="676.4" cy="895.8" r="3.35"/><circle cx="688" cy="894.4" r="3.35"/><circle cx="699.7" cy="895.8" r="3.35"/><circle cx="711.3" cy="895.8" r="3.35"/><circle cx="722.9" cy="895" r="3.35"/><circle cx="734.5" cy="894.4" r="3.35"/><circle cx="746.1" cy="894.4" r="3.35"/><circle cx="757.8" cy="895.8" r="3.35"/><circle cx="769.4" cy="894.4" r="3.35"/><circle cx="781" cy="890.1" r="3.35"/><circle cx="792.6" cy="892.3" r="3.35"/><circle cx="804.2" cy="887.3" r="3.35"/><circle cx="815.9" cy="886.6" r="3.35"/><circle cx="827.5" cy="883.8" r="3.35"/><circle cx="839.1" cy="884.5" r="3.35"/><circle cx="850.7" cy="884.5" r="3.35"/><circle cx="862.3" cy="888.7" r="3.35"/><circle cx="874" cy="897.2" r="3.35"/><circle cx="885.6" cy="909.9" r="3.35"/><circle cx="897.2" cy="926.1" r="3.35"/></g>
<g fill="#fff" stroke="#5d95f7" stroke-width="2.8"><circle cx="141.9" cy="934.8" r="3.35"/><circle cx="153.5" cy="928.5" r="3.35"/><circle cx="165.1" cy="923.5" r="3.35"/><circle cx="176.8" cy="922.8" r="3.35"/><circle cx="188.4" cy="914.6" r="3.35"/><circle cx="200" cy="907.3" r="3.35"/><circle cx="211.6" cy="902.4" r="3.35"/><circle cx="223.2" cy="903.8" r="3.35"/><circle cx="234.9" cy="891.1" r="3.35"/><circle cx="246.5" cy="889.1" r="3.35"/><circle cx="258.1" cy="892" r="3.35"/><circle cx="269.7" cy="876.4" r="3.35"/><circle cx="281.3" cy="863.2" r="3.35"/><circle cx="293" cy="838.5" r="3.35"/><circle cx="304.6" cy="810" r="3.35"/><circle cx="316.2" cy="788.6" r="3.35"/><circle cx="327.8" cy="797.7" r="3.35"/><circle cx="339.4" cy="757.5" r="3.35"/><circle cx="351.1" cy="747.7" r="3.35"/><circle cx="362.7" cy="737.2" r="3.35"/><circle cx="374.3" cy="737.2" r="3.35"/><circle cx="385.9" cy="738.6" r="3.35"/><circle cx="397.5" cy="745.6" r="3.35"/><circle cx="409.2" cy="763.9" r="3.35"/><circle cx="420.8" cy="787.2" r="3.35"/><circle cx="432.4" cy="807.5" r="3.35"/><circle cx="444" cy="826.5" r="3.35"/><circle cx="455.6" cy="839.9" r="3.35"/><circle cx="467.3" cy="849" r="3.35"/><circle cx="478.9" cy="855.4" r="3.35"/><circle cx="490.5" cy="858.9" r="3.35"/><circle cx="502.1" cy="868" r="3.35"/><circle cx="513.7" cy="861.7" r="3.35"/><circle cx="525.4" cy="864.5" r="3.35"/><circle cx="537" cy="868.5" r="3.35"/><circle cx="548.6" cy="870.1" r="3.35"/><circle cx="560.2" cy="873.2" r="3.35"/><circle cx="571.8" cy="877.5" r="3.35"/><circle cx="583.5" cy="881" r="3.35"/><circle cx="595.1" cy="883.1" r="3.35"/><circle cx="606.7" cy="891.5" r="3.35"/><circle cx="618.3" cy="893" r="3.35"/><circle cx="629.9" cy="893" r="3.35"/><circle cx="641.6" cy="893" r="3.35"/><circle cx="653.2" cy="900" r="3.35"/><circle cx="664.8" cy="895.8" r="3.35"/><circle cx="676.4" cy="900" r="3.35"/><circle cx="688" cy="902.1" r="3.35"/><circle cx="699.7" cy="901.4" r="3.35"/><circle cx="711.3" cy="900.7" r="3.35"/><circle cx="722.9" cy="900.7" r="3.35"/><circle cx="734.5" cy="901.4" r="3.35"/><circle cx="746.1" cy="900" r="3.35"/><circle cx="757.8" cy="898.6" r="3.35"/><circle cx="769.4" cy="900.7" r="3.35"/><circle cx="781" cy="900.7" r="3.35"/><circle cx="792.6" cy="902.1" r="3.35"/><circle cx="804.2" cy="900" r="3.35"/><circle cx="815.9" cy="901.4" r="3.35"/><circle cx="827.5" cy="902.5" r="3.35"/><circle cx="839.1" cy="903.5" r="3.35"/><circle cx="850.7" cy="904.9" r="3.35"/><circle cx="862.3" cy="909.2" r="3.35"/><circle cx="874" cy="920.4" r="3.35"/><circle cx="885.6" cy="933.1" r="3.35"/></g>
</g>
<line x1="132.5" y1="944.6" x2="967.0" y2="944.6" stroke="#000" stroke-width="2.6"/>
<g clip-path="url(#clipc)">
<g fill="#fff" stroke="#0b5a2a" stroke-width="2.8"><circle cx="223.2" cy="1447" r="3.35"/><circle cx="234.9" cy="1421.3" r="3.35"/><circle cx="246.5" cy="1388.2" r="3.35"/><circle cx="258.1" cy="1349.6" r="3.35"/><circle cx="269.7" cy="1309.5" r="3.35"/><circle cx="281.3" cy="1269.5" r="3.35"/><circle cx="293" cy="1234.4" r="3.35"/><circle cx="304.6" cy="1208.4" r="3.35"/><circle cx="316.2" cy="1194.7" r="3.35"/><circle cx="327.8" cy="1195.1" r="3.35"/><circle cx="339.4" cy="1210.1" r="3.35"/><circle cx="351.1" cy="1238.7" r="3.35"/><circle cx="362.7" cy="1277.8" r="3.35"/><circle cx="374.3" cy="1322.9" r="3.35"/><circle cx="385.9" cy="1369.3" r="3.35"/><circle cx="397.5" cy="1412.3" r="3.35"/><circle cx="409.2" cy="1447.5" r="3.35"/><circle cx="420.8" cy="1480" r="3.35"/><circle cx="432.4" cy="1480" r="3.35"/><circle cx="444" cy="1480" r="3.35"/><circle cx="455.6" cy="1480" r="3.35"/><circle cx="467.3" cy="1480" r="3.35"/><circle cx="478.9" cy="1470" r="3.35"/><circle cx="490.5" cy="1464" r="3.35"/><circle cx="502.1" cy="1440.6" r="3.35"/><circle cx="513.7" cy="1432" r="3.35"/><circle cx="525.4" cy="1428" r="3.35"/><circle cx="537" cy="1428" r="3.35"/><circle cx="548.6" cy="1430" r="3.35"/><circle cx="560.2" cy="1432" r="3.35"/><circle cx="571.8" cy="1431.5" r="3.35"/><circle cx="583.5" cy="1435.3" r="3.35"/><circle cx="595.1" cy="1438.3" r="3.35"/><circle cx="606.7" cy="1442.1" r="3.35"/><circle cx="618.3" cy="1444.3" r="3.35"/><circle cx="629.9" cy="1446.6" r="3.35"/><circle cx="641.6" cy="1447.3" r="3.35"/><circle cx="653.2" cy="1446.6" r="3.35"/><circle cx="664.8" cy="1445.8" r="3.35"/><circle cx="676.4" cy="1446" r="3.35"/><circle cx="688" cy="1446" r="3.35"/><circle cx="699.7" cy="1445.5" r="3.35"/><circle cx="711.3" cy="1445" r="3.35"/><circle cx="722.9" cy="1445" r="3.35"/><circle cx="734.5" cy="1444.5" r="3.35"/><circle cx="746.1" cy="1444" r="3.35"/><circle cx="757.8" cy="1444" r="3.35"/><circle cx="769.4" cy="1443.2" r="3.35"/><circle cx="781" cy="1439.7" r="3.35"/><circle cx="792.6" cy="1429" r="3.35"/><circle cx="804.2" cy="1419.3" r="3.35"/><circle cx="815.9" cy="1409.4" r="3.35"/><circle cx="827.5" cy="1400" r="3.35"/><circle cx="839.1" cy="1391.7" r="3.35"/><circle cx="850.7" cy="1391.7" r="3.35"/><circle cx="862.3" cy="1396.6" r="3.35"/><circle cx="874" cy="1405.1" r="3.35"/><circle cx="885.6" cy="1416.3" r="3.35"/><circle cx="897.2" cy="1430" r="3.35"/><circle cx="908.8" cy="1443.1" r="3.35"/><circle cx="920.4" cy="1453" r="3.35"/><circle cx="932.1" cy="1460" r="3.35"/><circle cx="943.7" cy="1464" r="3.35"/><circle cx="955.3" cy="1466" r="3.35"/><circle cx="966.9" cy="1466" r="3.35"/></g>
<g fill="#fff" stroke="#7cc77c" stroke-width="2.8"><circle cx="246.5" cy="1466" r="3.35"/><circle cx="258.1" cy="1462" r="3.35"/><circle cx="269.7" cy="1453.5" r="3.35"/><circle cx="281.3" cy="1439.1" r="3.35"/><circle cx="293" cy="1423" r="3.35"/><circle cx="304.6" cy="1403.9" r="3.35"/><circle cx="316.2" cy="1382.8" r="3.35"/><circle cx="327.8" cy="1359.5" r="3.35"/><circle cx="339.4" cy="1336" r="3.35"/><circle cx="351.1" cy="1318" r="3.35"/><circle cx="362.7" cy="1303" r="3.35"/><circle cx="374.3" cy="1296" r="3.35"/><circle cx="385.9" cy="1300" r="3.35"/><circle cx="397.5" cy="1318" r="3.35"/><circle cx="409.2" cy="1355" r="3.35"/><circle cx="420.8" cy="1402" r="3.35"/><circle cx="432.4" cy="1435" r="3.35"/><circle cx="444" cy="1480" r="3.35"/><circle cx="455.6" cy="1480" r="3.35"/><circle cx="467.3" cy="1480" r="3.35"/><circle cx="478.9" cy="1465" r="3.35"/><circle cx="490.5" cy="1451.9" r="3.35"/><circle cx="502.1" cy="1449" r="3.35"/><circle cx="513.7" cy="1430" r="3.35"/><circle cx="525.4" cy="1424" r="3.35"/><circle cx="537" cy="1424" r="3.35"/><circle cx="548.6" cy="1428" r="3.35"/><circle cx="560.2" cy="1440.6" r="3.35"/><circle cx="571.8" cy="1447.3" r="3.35"/><circle cx="583.5" cy="1449.6" r="3.35"/><circle cx="595.1" cy="1452" r="3.35"/><circle cx="606.7" cy="1454" r="3.35"/><circle cx="618.3" cy="1456" r="3.35"/><circle cx="629.9" cy="1458" r="3.35"/><circle cx="641.6" cy="1459" r="3.35"/><circle cx="653.2" cy="1459.4" r="3.35"/><circle cx="664.8" cy="1460.2" r="3.35"/><circle cx="676.4" cy="1458.7" r="3.35"/><circle cx="688" cy="1446" r="3.35"/><circle cx="699.7" cy="1441" r="3.35"/><circle cx="711.3" cy="1437.6" r="3.35"/><circle cx="722.9" cy="1433.4" r="3.35"/><circle cx="734.5" cy="1430.6" r="3.35"/><circle cx="746.1" cy="1430.6" r="3.35"/><circle cx="757.8" cy="1432" r="3.35"/><circle cx="769.4" cy="1432" r="3.35"/><circle cx="781" cy="1432" r="3.35"/><circle cx="792.6" cy="1430.6" r="3.35"/><circle cx="804.2" cy="1425.6" r="3.35"/><circle cx="815.9" cy="1419.3" r="3.35"/><circle cx="827.5" cy="1414.4" r="3.35"/><circle cx="839.1" cy="1410" r="3.35"/><circle cx="850.7" cy="1409.4" r="3.35"/><circle cx="862.3" cy="1410" r="3.35"/><circle cx="874" cy="1418" r="3.35"/><circle cx="885.6" cy="1424" r="3.35"/><circle cx="897.2" cy="1429.7" r="3.35"/><circle cx="908.8" cy="1438.9" r="3.35"/><circle cx="920.4" cy="1447.3" r="3.35"/><circle cx="932.1" cy="1455.8" r="3.35"/><circle cx="943.7" cy="1462" r="3.35"/></g>
<g fill="#fff" stroke="#f5141b" stroke-width="2.8"><circle cx="165.1" cy="1460.3" r="3.35"/><circle cx="176.8" cy="1458" r="3.35"/><circle cx="188.4" cy="1459.5" r="3.35"/><circle cx="200" cy="1465" r="3.35"/><circle cx="211.6" cy="1467" r="3.35"/><circle cx="223.2" cy="1467" r="3.35"/><circle cx="234.9" cy="1467" r="3.35"/><circle cx="246.5" cy="1467" r="3.35"/><circle cx="258.1" cy="1463.3" r="3.35"/><circle cx="269.7" cy="1434.4" r="3.35"/><circle cx="281.3" cy="1404.9" r="3.35"/><circle cx="293" cy="1380.4" r="3.35"/><circle cx="304.6" cy="1364.1" r="3.35"/><circle cx="316.2" cy="1353.6" r="3.35"/><circle cx="327.8" cy="1344.6" r="3.35"/><circle cx="339.4" cy="1331.3" r="3.35"/><circle cx="351.1" cy="1311.5" r="3.35"/><circle cx="362.7" cy="1295.4" r="3.35"/><circle cx="374.3" cy="1286.4" r="3.35"/><circle cx="385.9" cy="1294.8" r="3.35"/><circle cx="397.5" cy="1328" r="3.35"/><circle cx="409.2" cy="1368.6" r="3.35"/><circle cx="420.8" cy="1422.8" r="3.35"/><circle cx="432.4" cy="1440" r="3.35"/><circle cx="444" cy="1480" r="3.35"/><circle cx="455.6" cy="1480" r="3.35"/><circle cx="467.3" cy="1480" r="3.35"/><circle cx="478.9" cy="1480" r="3.35"/><circle cx="490.5" cy="1465" r="3.35"/><circle cx="502.1" cy="1448" r="3.35"/><circle cx="513.7" cy="1437.5" r="3.35"/><circle cx="525.4" cy="1430" r="3.35"/><circle cx="537" cy="1426.2" r="3.35"/><circle cx="548.6" cy="1418.7" r="3.35"/><circle cx="560.2" cy="1416.4" r="3.35"/><circle cx="571.8" cy="1414.9" r="3.35"/><circle cx="583.5" cy="1415.7" r="3.35"/><circle cx="595.1" cy="1420.9" r="3.35"/><circle cx="606.7" cy="1427" r="3.35"/><circle cx="618.3" cy="1432.3" r="3.35"/><circle cx="629.9" cy="1435.3" r="3.35"/><circle cx="641.6" cy="1435.3" r="3.35"/><circle cx="653.2" cy="1434.5" r="3.35"/><circle cx="664.8" cy="1434.5" r="3.35"/><circle cx="676.4" cy="1438.3" r="3.35"/><circle cx="688" cy="1442.8" r="3.35"/><circle cx="699.7" cy="1448" r="3.35"/><circle cx="711.3" cy="1456.9" r="3.35"/><circle cx="722.9" cy="1458.3" r="3.35"/><circle cx="734.5" cy="1457.3" r="3.35"/><circle cx="746.1" cy="1457" r="3.35"/><circle cx="757.8" cy="1446.1" r="3.35"/><circle cx="769.4" cy="1447.5" r="3.35"/><circle cx="781" cy="1448.9" r="3.35"/><circle cx="792.6" cy="1453" r="3.35"/><circle cx="804.2" cy="1456.6" r="3.35"/><circle cx="815.9" cy="1458" r="3.35"/><circle cx="827.5" cy="1455.2" r="3.35"/><circle cx="839.1" cy="1449.9" r="3.35"/><circle cx="850.7" cy="1442.5" r="3.35"/><circle cx="862.3" cy="1436.8" r="3.35"/><circle cx="874" cy="1435.4" r="3.35"/><circle cx="885.6" cy="1435.4" r="3.35"/><circle cx="897.2" cy="1443.8" r="3.35"/><circle cx="908.8" cy="1453" r="3.35"/><circle cx="920.4" cy="1462.8" r="3.35"/><circle cx="932.1" cy="1467" r="3.35"/></g>
<g fill="#fff" stroke="#ff8a1c" stroke-width="2.8"><circle cx="211.6" cy="1460.3" r="3.35"/><circle cx="223.2" cy="1460" r="3.35"/><circle cx="234.9" cy="1463.3" r="3.35"/><circle cx="246.5" cy="1465" r="3.35"/><circle cx="258.1" cy="1466" r="3.35"/><circle cx="269.7" cy="1466" r="3.35"/><circle cx="281.3" cy="1466" r="3.35"/><circle cx="293" cy="1466" r="3.35"/><circle cx="304.6" cy="1465" r="3.35"/><circle cx="316.2" cy="1453.2" r="3.35"/><circle cx="327.8" cy="1415" r="3.35"/><circle cx="339.4" cy="1374.2" r="3.35"/><circle cx="351.1" cy="1334.8" r="3.35"/><circle cx="362.7" cy="1308" r="3.35"/><circle cx="374.3" cy="1297.5" r="3.35"/><circle cx="385.9" cy="1300" r="3.35"/><circle cx="397.5" cy="1326.3" r="3.35"/><circle cx="409.2" cy="1361.3" r="3.35"/><circle cx="420.8" cy="1398.9" r="3.35"/><circle cx="432.4" cy="1432" r="3.35"/><circle cx="444" cy="1456.4" r="3.35"/><circle cx="455.6" cy="1466.2" r="3.35"/><circle cx="467.3" cy="1466.2" r="3.35"/><circle cx="478.9" cy="1459.4" r="3.35"/><circle cx="490.5" cy="1445.8" r="3.35"/><circle cx="502.1" cy="1432.3" r="3.35"/><circle cx="513.7" cy="1422.4" r="3.35"/><circle cx="525.4" cy="1417.2" r="3.35"/><circle cx="537" cy="1418" r="3.35"/><circle cx="548.6" cy="1422" r="3.35"/><circle cx="560.2" cy="1428" r="3.35"/><circle cx="571.8" cy="1435" r="3.35"/><circle cx="583.5" cy="1440" r="3.35"/><circle cx="595.1" cy="1443" r="3.35"/><circle cx="606.7" cy="1446" r="3.35"/><circle cx="618.3" cy="1447.3" r="3.35"/><circle cx="629.9" cy="1448.8" r="3.35"/><circle cx="641.6" cy="1449.6" r="3.35"/><circle cx="653.2" cy="1448.8" r="3.35"/><circle cx="664.8" cy="1448.1" r="3.35"/><circle cx="676.4" cy="1446" r="3.35"/><circle cx="688" cy="1442.8" r="3.35"/><circle cx="699.7" cy="1442.8" r="3.35"/><circle cx="711.3" cy="1442.5" r="3.35"/><circle cx="722.9" cy="1441.8" r="3.35"/><circle cx="734.5" cy="1441.1" r="3.35"/><circle cx="746.1" cy="1441.8" r="3.35"/><circle cx="757.8" cy="1439.7" r="3.35"/><circle cx="769.4" cy="1436.9" r="3.35"/><circle cx="781" cy="1431.3" r="3.35"/><circle cx="792.6" cy="1423.5" r="3.35"/><circle cx="804.2" cy="1415.1" r="3.35"/><circle cx="815.9" cy="1406.6" r="3.35"/><circle cx="827.5" cy="1399.6" r="3.35"/><circle cx="839.1" cy="1396.7" r="3.35"/><circle cx="850.7" cy="1398.1" r="3.35"/><circle cx="862.3" cy="1404.4" r="3.35"/><circle cx="874" cy="1412.8" r="3.35"/><circle cx="885.6" cy="1424.1" r="3.35"/><circle cx="897.2" cy="1437" r="3.35"/><circle cx="908.8" cy="1448" r="3.35"/><circle cx="920.4" cy="1458" r="3.35"/><circle cx="932.1" cy="1465" r="3.35"/></g>
<g fill="#fff" stroke="#ffc20e" stroke-width="2.8"><circle cx="188.4" cy="1463.3" r="3.35"/><circle cx="200" cy="1462.5" r="3.35"/><circle cx="211.6" cy="1462.5" r="3.35"/><circle cx="223.2" cy="1463" r="3.35"/><circle cx="234.9" cy="1466" r="3.35"/><circle cx="246.5" cy="1466" r="3.35"/><circle cx="258.1" cy="1466" r="3.35"/><circle cx="269.7" cy="1466" r="3.35"/><circle cx="281.3" cy="1466" r="3.35"/><circle cx="293" cy="1462" r="3.35"/><circle cx="304.6" cy="1448.2" r="3.35"/><circle cx="316.2" cy="1416" r="3.35"/><circle cx="327.8" cy="1378.6" r="3.35"/><circle cx="339.4" cy="1344.6" r="3.35"/><circle cx="351.1" cy="1317.2" r="3.35"/><circle cx="362.7" cy="1301.8" r="3.35"/><circle cx="374.3" cy="1297.5" r="3.35"/><circle cx="385.9" cy="1315" r="3.35"/><circle cx="397.5" cy="1341.1" r="3.35"/><circle cx="409.2" cy="1374.2" r="3.35"/><circle cx="420.8" cy="1408.7" r="3.35"/><circle cx="432.4" cy="1439" r="3.35"/><circle cx="444" cy="1480" r="3.35"/><circle cx="455.6" cy="1480" r="3.35"/><circle cx="467.3" cy="1480" r="3.35"/><circle cx="478.9" cy="1480" r="3.35"/><circle cx="490.5" cy="1468" r="3.35"/><circle cx="502.1" cy="1459.4" r="3.35"/><circle cx="513.7" cy="1448.1" r="3.35"/><circle cx="525.4" cy="1439" r="3.35"/><circle cx="537" cy="1433" r="3.35"/><circle cx="548.6" cy="1431.5" r="3.35"/><circle cx="560.2" cy="1434" r="3.35"/><circle cx="571.8" cy="1437" r="3.35"/><circle cx="583.5" cy="1439.8" r="3.35"/><circle cx="595.1" cy="1443" r="3.35"/><circle cx="606.7" cy="1446.6" r="3.35"/><circle cx="618.3" cy="1450" r="3.35"/><circle cx="629.9" cy="1456.4" r="3.35"/><circle cx="641.6" cy="1457.9" r="3.35"/><circle cx="653.2" cy="1458" r="3.35"/><circle cx="664.8" cy="1456" r="3.35"/><circle cx="676.4" cy="1446.6" r="3.35"/><circle cx="688" cy="1446.6" r="3.35"/><circle cx="699.7" cy="1447.3" r="3.35"/><circle cx="711.3" cy="1450" r="3.35"/><circle cx="722.9" cy="1453" r="3.35"/><circle cx="734.5" cy="1455" r="3.35"/><circle cx="746.1" cy="1456.6" r="3.35"/><circle cx="757.8" cy="1458" r="3.35"/><circle cx="769.4" cy="1458.7" r="3.35"/><circle cx="781" cy="1452" r="3.35"/><circle cx="792.6" cy="1446.8" r="3.35"/><circle cx="804.2" cy="1440.4" r="3.35"/><circle cx="815.9" cy="1432.7" r="3.35"/><circle cx="827.5" cy="1424.9" r="3.35"/><circle cx="839.1" cy="1418.5" r="3.35"/><circle cx="850.7" cy="1415" r="3.35"/><circle cx="862.3" cy="1416.3" r="3.35"/><circle cx="874" cy="1421.3" r="3.35"/><circle cx="885.6" cy="1429.7" r="3.35"/><circle cx="897.2" cy="1439.6" r="3.35"/><circle cx="908.8" cy="1448.7" r="3.35"/><circle cx="920.4" cy="1457.2" r="3.35"/><circle cx="932.1" cy="1460.7" r="3.35"/><circle cx="943.7" cy="1463.5" r="3.35"/><circle cx="955.3" cy="1463.5" r="3.35"/><circle cx="966.9" cy="1462.8" r="3.35"/></g>
<g fill="#fff" stroke="#5d95f7" stroke-width="2.8"><circle cx="141.9" cy="1464.2" r="3.35"/><circle cx="153.5" cy="1462.7" r="3.35"/><circle cx="165.1" cy="1462.7" r="3.35"/><circle cx="176.8" cy="1463.3" r="3.35"/><circle cx="188.4" cy="1465" r="3.35"/><circle cx="200" cy="1466" r="3.35"/><circle cx="211.6" cy="1466" r="3.35"/><circle cx="223.2" cy="1466" r="3.35"/><circle cx="234.9" cy="1466" r="3.35"/><circle cx="246.5" cy="1466.3" r="3.35"/><circle cx="258.1" cy="1457.3" r="3.35"/><circle cx="269.7" cy="1445.2" r="3.35"/><circle cx="281.3" cy="1433.1" r="3.35"/><circle cx="293" cy="1423" r="3.35"/><circle cx="304.6" cy="1413.4" r="3.35"/><circle cx="316.2" cy="1400.9" r="3.35"/><circle cx="327.8" cy="1384.8" r="3.35"/><circle cx="339.4" cy="1363.7" r="3.35"/><circle cx="351.1" cy="1340.4" r="3.35"/><circle cx="362.7" cy="1319.6" r="3.35"/><circle cx="374.3" cy="1306" r="3.35"/><circle cx="385.9" cy="1305.6" r="3.35"/><circle cx="397.5" cy="1320.7" r="3.35"/><circle cx="409.2" cy="1350.3" r="3.35"/><circle cx="420.8" cy="1389" r="3.35"/><circle cx="432.4" cy="1428.5" r="3.35"/><circle cx="444" cy="1462.3" r="3.35"/><circle cx="455.6" cy="1480" r="3.35"/><circle cx="467.3" cy="1480" r="3.35"/><circle cx="478.9" cy="1480" r="3.35"/><circle cx="490.5" cy="1465.4" r="3.35"/><circle cx="502.1" cy="1449.6" r="3.35"/><circle cx="513.7" cy="1433" r="3.35"/><circle cx="525.4" cy="1423.2" r="3.35"/><circle cx="537" cy="1420.9" r="3.35"/><circle cx="548.6" cy="1424" r="3.35"/><circle cx="560.2" cy="1430.7" r="3.35"/><circle cx="571.8" cy="1439" r="3.35"/><circle cx="583.5" cy="1445.8" r="3.35"/><circle cx="595.1" cy="1450.4" r="3.35"/><circle cx="606.7" cy="1451.9" r="3.35"/><circle cx="618.3" cy="1453.4" r="3.35"/><circle cx="629.9" cy="1453.4" r="3.35"/><circle cx="641.6" cy="1454.1" r="3.35"/><circle cx="653.2" cy="1454.9" r="3.35"/><circle cx="664.8" cy="1454.9" r="3.35"/><circle cx="676.4" cy="1455.6" r="3.35"/><circle cx="688" cy="1454.9" r="3.35"/><circle cx="699.7" cy="1453.4" r="3.35"/><circle cx="711.3" cy="1451" r="3.35"/><circle cx="722.9" cy="1449.6" r="3.35"/><circle cx="734.5" cy="1448.9" r="3.35"/><circle cx="746.1" cy="1449.6" r="3.35"/><circle cx="757.8" cy="1451.7" r="3.35"/><circle cx="769.4" cy="1453.8" r="3.35"/><circle cx="781" cy="1453.8" r="3.35"/><circle cx="792.6" cy="1453.1" r="3.35"/><circle cx="804.2" cy="1448.2" r="3.35"/><circle cx="815.9" cy="1441.8" r="3.35"/><circle cx="827.5" cy="1434.1" r="3.35"/><circle cx="839.1" cy="1427.3" r="3.35"/><circle cx="850.7" cy="1423.8" r="3.35"/><circle cx="862.3" cy="1425.5" r="3.35"/><circle cx="874" cy="1431.1" r="3.35"/><circle cx="885.6" cy="1441" r="3.35"/><circle cx="897.2" cy="1453" r="3.35"/><circle cx="908.8" cy="1464.2" r="3.35"/><circle cx="920.4" cy="1468" r="3.35"/></g>
</g>
<line x1="132.5" y1="1467.6" x2="967.0" y2="1467.6" stroke="#000" stroke-width="2.6"/>
<rect x="132.5" y="3.5" width="834.5" height="417.5" fill="none" stroke="#333333" stroke-width="2.0"/>
<path d="M124 31H132.5M124 86.8H132.5M124 142.6H132.5M124 198.4H132.5M124 254.2H132.5M124 310H132.5M124 365.8H132.5M124 421.6H132.5M127.5 3.1H132.5M127.5 58.9H132.5M127.5 114.7H132.5M127.5 170.5H132.5M127.5 226.3H132.5M127.5 282.1H132.5M127.5 337.9H132.5M127.5 393.7H132.5" stroke="#333333" stroke-width="1.6" fill="none"/>
<text transform="translate(114.5 39.5) scale(1.03 1)" text-anchor="end" font-size="23">0.04</text>
<text transform="translate(114.5 95.3) scale(1.03 1)" text-anchor="end" font-size="23">0.02</text>
<text transform="translate(114.5 151.1) scale(1.03 1)" text-anchor="end" font-size="23">0.00</text>
<text transform="translate(114.5 206.9) scale(1.03 1)" text-anchor="end" font-size="23">&#8722;0.02</text>
<text transform="translate(114.5 262.7) scale(1.03 1)" text-anchor="end" font-size="23">&#8722;0.04</text>
<text transform="translate(114.5 318.5) scale(1.03 1)" text-anchor="end" font-size="23">&#8722;0.06</text>
<text transform="translate(114.5 374.3) scale(1.03 1)" text-anchor="end" font-size="23">&#8722;0.08</text>
<text transform="translate(114.5 430.1) scale(1.03 1)" text-anchor="end" font-size="23">&#8722;0.10</text>
<path d="M132.5 421V429.5M271.6 421V429.5M410.7 421V429.5M549.8 421V429.5M688.8 421V429.5M827.9 421V429.5M967 421V429.5M202 421V426M341.1 421V426M480.2 421V426M619.3 421V426M758.4 421V426M897.5 421V426" stroke="#333333" stroke-width="1.6" fill="none"/>
<text transform="translate(132.5 461.5) scale(1.03 1)" text-anchor="middle" font-size="23">0.00</text>
<text transform="translate(271.6 461.5) scale(1.03 1)" text-anchor="middle" font-size="23">0.05</text>
<text transform="translate(410.7 461.5) scale(1.03 1)" text-anchor="middle" font-size="23">0.10</text>
<text transform="translate(549.8 461.5) scale(1.03 1)" text-anchor="middle" font-size="23">0.15</text>
<text transform="translate(688.8 461.5) scale(1.03 1)" text-anchor="middle" font-size="23">0.20</text>
<text transform="translate(827.9 461.5) scale(1.03 1)" text-anchor="middle" font-size="23">0.25</text>
<text transform="translate(967 461.5) scale(1.03 1)" text-anchor="middle" font-size="23">0.30</text>
<rect x="132.5" y="526.0" width="834.5" height="418.5" fill="none" stroke="#333333" stroke-width="2.0"/>
<path d="M124 944.5H132.5M124 892.1H132.5M124 839.8H132.5M124 787.4H132.5M124 735H132.5M124 682.6H132.5M124 630.2H132.5M124 577.9H132.5M124 525.5H132.5M127.5 918.3H132.5M127.5 865.9H132.5M127.5 813.6H132.5M127.5 761.2H132.5M127.5 708.8H132.5M127.5 656.4H132.5M127.5 604.1H132.5M127.5 551.7H132.5" stroke="#333333" stroke-width="1.6" fill="none"/>
<text transform="translate(114.5 953) scale(1.03 1)" text-anchor="end" font-size="23">0.000</text>
<text transform="translate(114.5 900.6) scale(1.03 1)" text-anchor="end" font-size="23">0.005</text>
<text transform="translate(114.5 848.2) scale(1.03 1)" text-anchor="end" font-size="23">0.010</text>
<text transform="translate(114.5 795.9) scale(1.03 1)" text-anchor="end" font-size="23">0.015</text>
<text transform="translate(114.5 743.5) scale(1.03 1)" text-anchor="end" font-size="23">0.020</text>
<text transform="translate(114.5 691.1) scale(1.03 1)" text-anchor="end" font-size="23">0.025</text>
<text transform="translate(114.5 638.8) scale(1.03 1)" text-anchor="end" font-size="23">0.030</text>
<text transform="translate(114.5 586.4) scale(1.03 1)" text-anchor="end" font-size="23">0.035</text>
<text transform="translate(114.5 534) scale(1.03 1)" text-anchor="end" font-size="23">0.040</text>
<path d="M132.5 944.5V953M271.6 944.5V953M410.7 944.5V953M549.8 944.5V953M688.8 944.5V953M827.9 944.5V953M967 944.5V953M174.4 944.5V949.5M198.9 944.5V949.5M216.2 944.5V949.5M229.7 944.5V949.5M240.7 944.5V949.5M250 944.5V949.5M258.1 944.5V949.5M265.2 944.5V949.5M313.5 944.5V949.5M337.9 944.5V949.5M355.3 944.5V949.5M368.8 944.5V949.5M379.8 944.5V949.5M389.1 944.5V949.5M397.2 944.5V949.5M404.3 944.5V949.5M452.5 944.5V949.5M477 944.5V949.5M494.4 944.5V949.5M507.9 944.5V949.5M518.9 944.5V949.5M528.2 944.5V949.5M536.3 944.5V949.5M543.4 944.5V949.5M591.6 944.5V949.5M616.1 944.5V949.5M633.5 944.5V949.5M647 944.5V949.5M658 944.5V949.5M667.3 944.5V949.5M675.4 944.5V949.5M682.5 944.5V949.5M730.7 944.5V949.5M755.2 944.5V949.5M772.6 944.5V949.5M786 944.5V949.5M797.1 944.5V949.5M806.4 944.5V949.5M814.4 944.5V949.5M821.6 944.5V949.5M869.8 944.5V949.5M894.3 944.5V949.5M911.7 944.5V949.5M925.1 944.5V949.5M936.1 944.5V949.5M945.5 944.5V949.5M953.5 944.5V949.5M960.6 944.5V949.5" stroke="#333333" stroke-width="1.6" fill="none"/>
<text transform="translate(132.5 987) scale(1.03 1)" text-anchor="middle" font-size="23">10<tspan dy="-9.5" font-size="16">&#8722;1</tspan></text>
<text transform="translate(272.1 987) scale(1.03 1)" text-anchor="middle" font-size="23">10<tspan dy="-9.5" font-size="16">0</tspan></text>
<text transform="translate(411.2 987) scale(1.03 1)" text-anchor="middle" font-size="23">10<tspan dy="-9.5" font-size="16">1</tspan></text>
<text transform="translate(550.2 987) scale(1.03 1)" text-anchor="middle" font-size="23">10<tspan dy="-9.5" font-size="16">2</tspan></text>
<text transform="translate(689.3 987) scale(1.03 1)" text-anchor="middle" font-size="23">10<tspan dy="-9.5" font-size="16">3</tspan></text>
<text transform="translate(828.4 987) scale(1.03 1)" text-anchor="middle" font-size="23">10<tspan dy="-9.5" font-size="16">4</tspan></text>
<text transform="translate(967.5 987) scale(1.03 1)" text-anchor="middle" font-size="23">10<tspan dy="-9.5" font-size="16">5</tspan></text>
<rect x="132.5" y="1051.5" width="834.5" height="416.0" fill="none" stroke="#333333" stroke-width="2.0"/>
<path d="M124 1467.5H132.5M124 1412H132.5M124 1356.5H132.5M124 1300.9H132.5M124 1245.4H132.5M124 1189.9H132.5M124 1134.4H132.5M124 1078.9H132.5M127.5 1439.7H132.5M127.5 1384.2H132.5M127.5 1328.7H132.5M127.5 1273.2H132.5M127.5 1217.7H132.5M127.5 1162.1H132.5M127.5 1106.6H132.5" stroke="#333333" stroke-width="1.6" fill="none"/>
<text transform="translate(114.5 1476) scale(1.03 1)" text-anchor="end" font-size="23">0.00</text>
<text transform="translate(114.5 1420.5) scale(1.03 1)" text-anchor="end" font-size="23">0.02</text>
<text transform="translate(114.5 1365) scale(1.03 1)" text-anchor="end" font-size="23">0.04</text>
<text transform="translate(114.5 1309.4) scale(1.03 1)" text-anchor="end" font-size="23">0.06</text>
<text transform="translate(114.5 1253.9) scale(1.03 1)" text-anchor="end" font-size="23">0.08</text>
<text transform="translate(114.5 1198.4) scale(1.03 1)" text-anchor="end" font-size="23">0.10</text>
<text transform="translate(114.5 1142.9) scale(1.03 1)" text-anchor="end" font-size="23">0.12</text>
<text transform="translate(114.5 1087.4) scale(1.03 1)" text-anchor="end" font-size="23">0.14</text>
<path d="M132.5 1467.5V1476M271.6 1467.5V1476M410.7 1467.5V1476M549.8 1467.5V1476M688.8 1467.5V1476M827.9 1467.5V1476M967 1467.5V1476M174.4 1467.5V1472.5M198.9 1467.5V1472.5M216.2 1467.5V1472.5M229.7 1467.5V1472.5M240.7 1467.5V1472.5M250 1467.5V1472.5M258.1 1467.5V1472.5M265.2 1467.5V1472.5M313.5 1467.5V1472.5M337.9 1467.5V1472.5M355.3 1467.5V1472.5M368.8 1467.5V1472.5M379.8 1467.5V1472.5M389.1 1467.5V1472.5M397.2 1467.5V1472.5M404.3 1467.5V1472.5M452.5 1467.5V1472.5M477 1467.5V1472.5M494.4 1467.5V1472.5M507.9 1467.5V1472.5M518.9 1467.5V1472.5M528.2 1467.5V1472.5M536.3 1467.5V1472.5M543.4 1467.5V1472.5M591.6 1467.5V1472.5M616.1 1467.5V1472.5M633.5 1467.5V1472.5M647 1467.5V1472.5M658 1467.5V1472.5M667.3 1467.5V1472.5M675.4 1467.5V1472.5M682.5 1467.5V1472.5M730.7 1467.5V1472.5M755.2 1467.5V1472.5M772.6 1467.5V1472.5M786 1467.5V1472.5M797.1 1467.5V1472.5M806.4 1467.5V1472.5M814.4 1467.5V1472.5M821.6 1467.5V1472.5M869.8 1467.5V1472.5M894.3 1467.5V1472.5M911.7 1467.5V1472.5M925.1 1467.5V1472.5M936.1 1467.5V1472.5M945.5 1467.5V1472.5M953.5 1467.5V1472.5M960.6 1467.5V1472.5" stroke="#333333" stroke-width="1.6" fill="none"/>
<text transform="translate(132.5 1510) scale(1.03 1)" text-anchor="middle" font-size="23">10<tspan dy="-9.5" font-size="16">&#8722;1</tspan></text>
<text transform="translate(272.1 1510) scale(1.03 1)" text-anchor="middle" font-size="23">10<tspan dy="-9.5" font-size="16">0</tspan></text>
<text transform="translate(411.2 1510) scale(1.03 1)" text-anchor="middle" font-size="23">10<tspan dy="-9.5" font-size="16">1</tspan></text>
<text transform="translate(550.2 1510) scale(1.03 1)" text-anchor="middle" font-size="23">10<tspan dy="-9.5" font-size="16">2</tspan></text>
<text transform="translate(689.3 1510) scale(1.03 1)" text-anchor="middle" font-size="23">10<tspan dy="-9.5" font-size="16">3</tspan></text>
<text transform="translate(828.4 1510) scale(1.03 1)" text-anchor="middle" font-size="23">10<tspan dy="-9.5" font-size="16">4</tspan></text>
<text transform="translate(967.5 1510) scale(1.03 1)" text-anchor="middle" font-size="23">10<tspan dy="-9.5" font-size="16">5</tspan></text>
<text transform="translate(551 497.5) scale(1.0 1)" text-anchor="middle" font-size="23">Z<tspan font-size="17" dy="2.5">real</tspan><tspan dy="-2.5">&#8201;[&#937;&#8201;cm<tspan font-size="15" dy="-9">2</tspan><tspan dy="9">]</tspan></tspan></text>
<text transform="translate(549 1019) scale(1.03 1)" text-anchor="middle" font-size="23">f [Hz]</text>
<text transform="translate(549 1541) scale(1.03 1)" text-anchor="middle" font-size="23">f [Hz]</text>
<text transform="translate(22.5 212.5) rotate(-90) scale(1.0 1)" x="0" y="0" text-anchor="middle" font-size="23">&#8722;Z<tspan font-size="17" dy="2.5">imag</tspan><tspan dy="-2.5">&#8201;[&#937;&#8201;cm<tspan font-size="15" dy="-9">2</tspan><tspan dy="9">]</tspan></tspan></text>
<text transform="translate(28 736) rotate(-90) scale(1.0 1)" x="0" y="0" text-anchor="middle" font-size="23">&#8722;Z<tspan font-size="17" dy="2.5">imag</tspan><tspan dy="-2.5">&#8201;[&#937;&#8201;cm<tspan font-size="15" dy="-9">2</tspan><tspan dy="9">]</tspan></tspan></text>
<text transform="translate(45.6 1258) rotate(-90) scale(1.035 1)" x="0" y="0" text-anchor="middle" font-size="23">DRT [&#937;&#8201;cm<tspan font-size="15" dy="-9">2</tspan><tspan dy="9">s]</tspan></text>
<text transform="translate(159 54.5) scale(0.95 1)" font-size="49" style="font-family:'Liberation Sans',Arial,sans-serif;font-weight:bold; fill:#000;stroke:none">a<tspan font-size="51" dx="4">)</tspan></text>
<text transform="translate(157 585.5) scale(0.95 1)" font-size="49" style="font-family:'Liberation Sans',Arial,sans-serif;font-weight:bold; fill:#000;stroke:none">b<tspan font-size="51" dx="4">)</tspan></text>
<text transform="translate(157 1119.5) scale(0.95 1)" font-size="49" style="font-family:'Liberation Sans',Arial,sans-serif;font-weight:bold; fill:#000;stroke:none">c<tspan font-size="51" dx="4">)</tspan></text>
<rect x="686" y="184" width="261" height="218.5" fill="#fff" stroke="#2a2a2a" stroke-width="2.0"/>
<circle cx="720.2" cy="205.6" r="4.6" fill="none" stroke="#0b5a2a" stroke-width="3.3"/>
<text transform="translate(763.3 213.9) scale(1.03 1)" text-anchor="start" font-size="22.5">Cell (<tspan letter-spacing="-0.9">920</tspan>&#8201;-1.5)</text>
<circle cx="720.2" cy="240.4" r="4.6" fill="none" stroke="#7cc77c" stroke-width="3.3"/>
<text transform="translate(763.3 248.7) scale(1.03 1)" text-anchor="start" font-size="22.5">Cell (<tspan letter-spacing="-0.9">920</tspan>&#8201;-1.25)</text>
<circle cx="720.2" cy="275.8" r="4.6" fill="none" stroke="#f5141b" stroke-width="3.3"/>
<text transform="translate(763.3 284.1) scale(1.03 1)" text-anchor="start" font-size="22.5">Cell (<tspan letter-spacing="-0.9">920</tspan>&#8201;-1)</text>
<circle cx="720.2" cy="311.6" r="4.6" fill="none" stroke="#ff8a1c" stroke-width="3.3"/>
<text transform="translate(763.3 319.9) scale(1.03 1)" text-anchor="start" font-size="22.5">Cell <tspan letter-spacing="0.5">(850-1)</tspan></text>
<circle cx="720.2" cy="346.4" r="4.6" fill="none" stroke="#ffc20e" stroke-width="3.3"/>
<text transform="translate(763.3 354.7) scale(1.03 1)" text-anchor="start" font-size="22.5">Cell <tspan letter-spacing="0.5">(800-1)</tspan></text>
<circle cx="720.2" cy="380.4" r="4.6" fill="none" stroke="#5d95f7" stroke-width="3.3"/>
<text transform="translate(763.3 388.7) scale(1.03 1)" text-anchor="start" font-size="22.5">Cell <tspan letter-spacing="0.5">(750-1)</tspan></text>
<rect x="685.7" y="546.4" width="261.69999999999993" height="217.80000000000007" fill="#fff" stroke="#2a2a2a" stroke-width="2.0"/>
<circle cx="720.7" cy="566.8" r="4.6" fill="none" stroke="#0b5a2a" stroke-width="3.3"/>
<text transform="translate(763.6 575.1) scale(1.03 1)" text-anchor="start" font-size="22.5">Cell (<tspan letter-spacing="-0.9">920</tspan>&#8201;-1.5)</text>
<circle cx="720.7" cy="601.5" r="4.6" fill="none" stroke="#7cc77c" stroke-width="3.3"/>
<text transform="translate(763.6 609.8) scale(1.03 1)" text-anchor="start" font-size="22.5">Cell (<tspan letter-spacing="-0.9">920</tspan>&#8201;-1.25)</text>
<circle cx="720.7" cy="636.2" r="4.6" fill="none" stroke="#f5141b" stroke-width="3.3"/>
<text transform="translate(763.6 644.5) scale(1.03 1)" text-anchor="start" font-size="22.5">Cell (<tspan letter-spacing="-0.9">920</tspan>&#8201;-1)</text>
<circle cx="720.7" cy="671.3" r="4.6" fill="none" stroke="#ff8a1c" stroke-width="3.3"/>
<text transform="translate(763.6 679.6) scale(1.03 1)" text-anchor="start" font-size="22.5">Cell <tspan letter-spacing="0.5">(850-1)</tspan></text>
<circle cx="720.7" cy="706.6" r="4.6" fill="none" stroke="#ffc20e" stroke-width="3.3"/>
<text transform="translate(763.6 714.9) scale(1.03 1)" text-anchor="start" font-size="22.5">Cell <tspan letter-spacing="0.5">(800-1)</tspan></text>
<circle cx="720.7" cy="741.9" r="4.6" fill="none" stroke="#5d95f7" stroke-width="3.3"/>
<text transform="translate(763.6 750.2) scale(1.03 1)" text-anchor="start" font-size="22.5">Cell <tspan letter-spacing="0.5">(750-1)</tspan></text>
<rect x="690.2" y="1060.6" width="262.0" height="218.80000000000018" fill="#fff" stroke="#2a2a2a" stroke-width="2.0"/>
<circle cx="724.9" cy="1080.8" r="4.6" fill="none" stroke="#0b5a2a" stroke-width="3.3"/>
<text transform="translate(767.2 1089.1) scale(1.03 1)" text-anchor="start" font-size="22.5">Cell (<tspan letter-spacing="-0.9">920</tspan>&#8201;-1.5)</text>
<circle cx="724.9" cy="1115.8" r="4.6" fill="none" stroke="#7cc77c" stroke-width="3.3"/>
<text transform="translate(767.2 1124.1) scale(1.03 1)" text-anchor="start" font-size="22.5">Cell (<tspan letter-spacing="-0.9">920</tspan>&#8201;-1.25)</text>
<circle cx="724.9" cy="1151.7" r="4.6" fill="none" stroke="#f5141b" stroke-width="3.3"/>
<text transform="translate(767.2 1160) scale(1.03 1)" text-anchor="start" font-size="22.5">Cell (<tspan letter-spacing="-0.9">920</tspan>&#8201;-1)</text>
<circle cx="724.9" cy="1185.8" r="4.6" fill="none" stroke="#ff8a1c" stroke-width="3.3"/>
<text transform="translate(767.2 1194.1) scale(1.03 1)" text-anchor="start" font-size="22.5">Cell <tspan letter-spacing="0.5">(850-1)</tspan></text>
<circle cx="724.9" cy="1220.5" r="4.6" fill="none" stroke="#ffc20e" stroke-width="3.3"/>
<text transform="translate(767.2 1228.8) scale(1.03 1)" text-anchor="start" font-size="22.5">Cell <tspan letter-spacing="0.5">(800-1)</tspan></text>
<circle cx="724.9" cy="1256.2" r="4.6" fill="none" stroke="#5d95f7" stroke-width="3.3"/>
<text transform="translate(767.2 1264.5) scale(1.03 1)" text-anchor="start" font-size="22.5">Cell <tspan letter-spacing="0.5">(750-1)</tspan></text>
</svg></body></html>
